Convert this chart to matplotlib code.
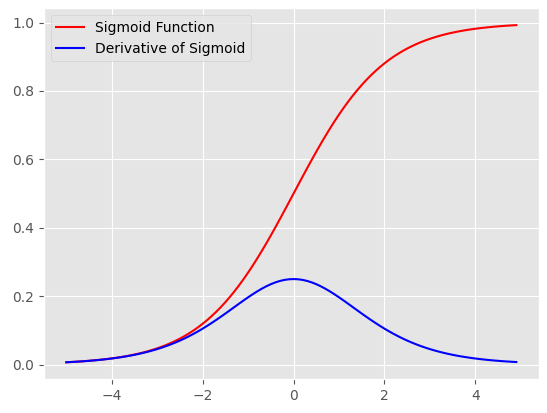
import numpy as np
import matplotlib
matplotlib.use("Agg")
import matplotlib.pyplot as plt

plt.style.use("ggplot")
x_start, x_stop, x_step = -5.0, 5.0, 0.1
labels = ["Sigmoid Function", "Derivative of Sigmoid"]
colors = ["red", "blue"]

x = np.arange(x_start, x_stop, x_step)
sig = 1 / (1 + np.exp(-x))
dsig = sig * (1 - sig)

fig, ax = plt.subplots(figsize=(5.47, 4.13), dpi=100)
ax.plot(x, sig, color=colors[0], label=labels[0])
ax.plot(x, dsig, color=colors[1], label=labels[1])
ax.legend(loc="upper left")
fig.subplots_adjust(left=0.08, right=0.985, bottom=0.082, top=0.98)
fig.savefig("out.png", dpi=100)
